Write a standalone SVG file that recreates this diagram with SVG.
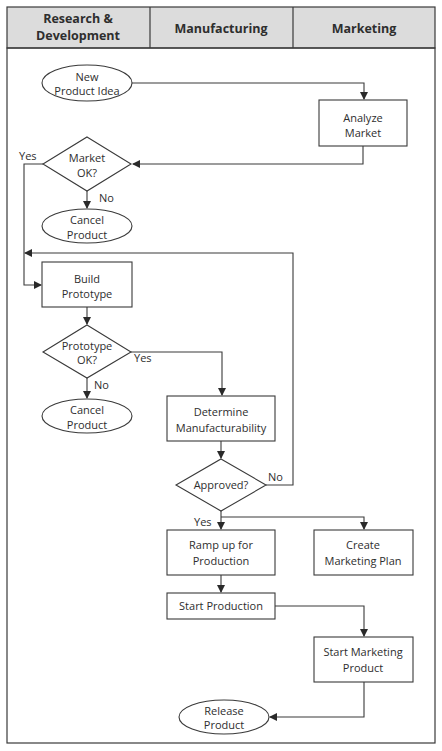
<svg xmlns="http://www.w3.org/2000/svg" width="442" height="751" viewBox="0 0 442 751">
<style>
.frame{fill:none;stroke:#3a3a3a;stroke-width:1.2}
.hdr{fill:#dcdcdc;stroke:#3a3a3a;stroke-width:1.2}
.shape{fill:#fff;stroke:#3a3a3a;stroke-width:1.1}
.conn{fill:none;stroke:#3a3a3a;stroke-width:1.1}
text{font-family:"Open Sans","Noto Sans",sans-serif;font-size:11px;fill:#2e2e2e;text-anchor:middle}
.h{font-weight:bold;font-size:12.5px}
.lbl{text-anchor:start}
</style>
<defs>
<marker id="arr" markerWidth="8" markerHeight="8" refX="7" refY="4" orient="auto" markerUnits="userSpaceOnUse">
<path d="M0,0 L8,4 L0,8 z" fill="#2a2a2a"/>
</marker>
</defs>
<rect x="0" y="0" width="442" height="751" fill="#fff"/>
<g id="header">
<rect class="hdr" x="7" y="7" width="428" height="41"/>
<line class="frame" x1="150" y1="7" x2="150" y2="48"/>
<line class="frame" x1="293" y1="7" x2="293" y2="48"/>
<text class="h" x="78" y="23">Research &amp;</text>
<text class="h" x="78" y="40">Development</text>
<text class="h" x="221" y="33">Manufacturing</text>
<text class="h" x="364" y="33">Marketing</text>
</g>
<rect class="frame" x="7" y="48" width="428" height="695"/>
<g id="connectors">
<path class="conn" d="M132,83 H364 V99" marker-end="url(#arr)"/>
<path class="conn" d="M363,146 V164 H133" marker-end="url(#arr)"/>
<path class="conn" d="M87,191 V208" marker-end="url(#arr)"/>
<path class="conn" d="M43,164 H24 V285 H41" marker-end="url(#arr)"/>
<path class="conn" d="M266,485 H293 V253 H25" marker-end="url(#arr)"/>
<path class="conn" d="M87,307 V324" marker-end="url(#arr)"/>
<path class="conn" d="M87,378 V398" marker-end="url(#arr)"/>
<path class="conn" d="M131,352 H222 V395" marker-end="url(#arr)"/>
<path class="conn" d="M221,441 V458" marker-end="url(#arr)"/>
<path class="conn" d="M221,511 V529" marker-end="url(#arr)"/>
<path class="conn" d="M221,517 H364 V529" marker-end="url(#arr)"/>
<path class="conn" d="M221,575 V592" marker-end="url(#arr)"/>
<path class="conn" d="M275,606 H364 V636" marker-end="url(#arr)"/>
<path class="conn" d="M364,682 V717 H270" marker-end="url(#arr)"/>
<text class="lbl" x="19" y="160">Yes</text>
<text class="lbl" x="99" y="202">No</text>
<text class="lbl" x="134" y="362">Yes</text>
<text class="lbl" x="94" y="389">No</text>
<text class="lbl" x="268" y="481">No</text>
<text class="lbl" x="194" y="526">Yes</text>
</g>
<g id="new-product-idea">
<ellipse class="shape" cx="87" cy="83" rx="45" ry="18"/>
<text x="87" y="81">New</text>
<text x="87" y="95">Product Idea</text>
</g>
<g id="analyze-market">
<rect class="shape" x="319" y="100" width="88" height="46"/>
<text x="363" y="122">Analyze</text>
<text x="363" y="137">Market</text>
</g>
<g id="market-ok">
<polygon class="shape" points="87,137 131,164 87,191 43,164"/>
<text x="87" y="162">Market</text>
<text x="87" y="177">OK?</text>
</g>
<g id="cancel-product-1">
<ellipse class="shape" cx="87" cy="226" rx="45" ry="17"/>
<text x="87" y="224">Cancel</text>
<text x="87" y="239">Product</text>
</g>
<g id="build-prototype">
<rect class="shape" x="42" y="262" width="90" height="45"/>
<text x="87" y="283">Build</text>
<text x="87" y="298">Prototype</text>
</g>
<g id="prototype-ok">
<polygon class="shape" points="87,325 131,352 87,378 43,352"/>
<text x="87" y="350">Prototype</text>
<text x="87" y="364">OK?</text>
</g>
<g id="cancel-product-2">
<ellipse class="shape" cx="87" cy="416" rx="45" ry="17"/>
<text x="87" y="414">Cancel</text>
<text x="87" y="429">Product</text>
</g>
<g id="determine-manufacturability">
<rect class="shape" x="167" y="396" width="108" height="45"/>
<text x="221" y="416">Determine</text>
<text x="221" y="432">Manufacturability</text>
</g>
<g id="approved">
<polygon class="shape" points="221,459 266,485 221,511 176,485"/>
<text x="221" y="489">Approved?</text>
</g>
<g id="ramp-up">
<rect class="shape" x="167" y="530" width="108" height="45"/>
<text x="221" y="549">Ramp up for</text>
<text x="221" y="565">Production</text>
</g>
<g id="create-marketing-plan">
<rect class="shape" x="314" y="530" width="99" height="45"/>
<text x="363" y="549">Create</text>
<text x="363" y="565">Marketing Plan</text>
</g>
<g id="start-production">
<rect class="shape" x="167" y="593" width="108" height="26"/>
<text x="221" y="610">Start Production</text>
</g>
<g id="start-marketing-product">
<rect class="shape" x="314" y="637" width="99" height="45"/>
<text x="363" y="656">Start Marketing</text>
<text x="363" y="672">Product</text>
</g>
<g id="release-product">
<ellipse class="shape" cx="224" cy="717" rx="45" ry="17"/>
<text x="224" y="715">Release</text>
<text x="224" y="729">Product</text>
</g>
</svg>
